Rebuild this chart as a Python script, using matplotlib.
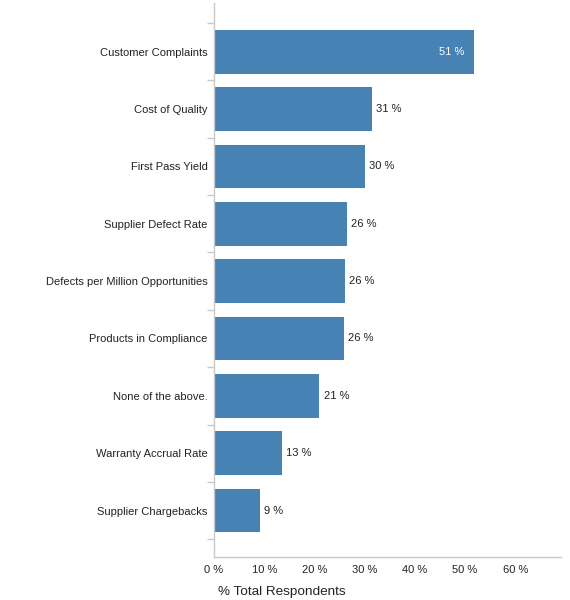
import matplotlib
matplotlib.use('Agg')
import matplotlib.pyplot as plt
from matplotlib.ticker import FixedLocator, FuncFormatter

plt.rcParams['font.family'] = ['Liberation Sans', 'DejaVu Sans']

categories = ['Customer Complaints', 'Cost of Quality', 'First Pass Yield',
              'Supplier Defect Rate', 'Defects per Million Opportunities',
              'Products in Compliance', 'None of the above.',
              'Warranty Accrual Rate', 'Supplier Chargebacks']
values = [51.7, 31.5, 30.1, 26.5, 26.1, 25.9, 21.0, 13.6, 9.1]
value_labels = ['51 %', '31 %', '30 %', '26 %', '26 %', '26 %', '21 %', '13 %', '9 %']
x_ticks = [0, 10, 20, 30, 40, 50, 60]

bar_color = '#4682b4'
grey = '#c8c8c8'
txt = '#222222'
fs = 8.0

fig = plt.figure(figsize=(5.7, 6.0), dpi=100)
ax = fig.add_axes([214 / 570, 1 - 557 / 600, (561 - 214) / 570, (557 - 3) / 600])

ypos = list(range(len(categories)))
ax.barh(ypos, values, height=0.76, color=bar_color)

# value labels: inside (white) for the long bar, outside otherwise
for y, v, lab in zip(ypos, values, value_labels):
    if v > 45:
        ax.annotate(lab, (v, y), xytext=(-6.5, 0), textcoords='offset points',
                    ha='right', va='center', color='white', fontsize=fs)
    else:
        ax.annotate(lab, (v, y), xytext=(3, 0), textcoords='offset points',
                    ha='left', va='center', color=txt, fontsize=fs)

ax.set_xlim(0, 69.1)
ax.set_ylim(8.5 + 0.31, -0.5 - 0.35)

ax.set_yticks(ypos)
ax.set_yticklabels(categories, fontsize=fs, color=txt)
ax.tick_params(axis='y', which='major', length=0, pad=4.5)
ax.yaxis.set_minor_locator(FixedLocator([i - 0.5 for i in range(len(categories) + 1)]))
ax.tick_params(axis='y', which='minor', length=5, color=grey, width=1)

ax.set_xticks(x_ticks)
ax.xaxis.set_major_formatter(FuncFormatter(lambda x, p: '%d %%' % x))
ax.tick_params(axis='x', length=0, pad=6, labelsize=fs, labelcolor=txt)

for s in ['top', 'right']:
    ax.spines[s].set_visible(False)
for s in ['left', 'bottom']:
    ax.spines[s].set_color(grey)
    ax.spines[s].set_linewidth(1)

fig.text(218 / 570, 1 - 592 / 600, '% Total Respondents', fontsize=9.7,
         color=txt, ha='left', va='center')

fig.savefig('out.png', dpi=100)
